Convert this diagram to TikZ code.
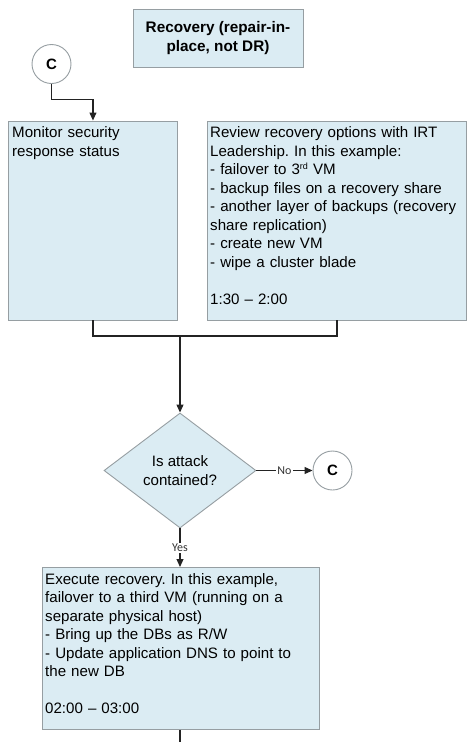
\documentclass[tikz,border=0pt]{standalone}
\usepackage{fontspec}
\setmainfont{Liberation Sans}
\newfontfamily\smallfont{Carlito}
\usetikzlibrary{positioning,calc,arrows.meta,shapes.geometric}
\definecolor{boxfill}{RGB}{219,236,243}
\definecolor{boxline}{RGB}{150,158,162}
\definecolor{wireline}{RGB}{35,35,35}
\frenchspacing

\begin{document}
\begin{tikzpicture}[x=1pt,y=-1pt,
  stepbox/.style={draw=boxline, fill=boxfill, line width=0.9pt, anchor=north west, inner sep=0pt},
  steptext/.style={anchor=north west, inner sep=0pt, align=left,
    font=\fontsize{15.1}{18.5}\selectfont},
  titlebox/.style={stepbox, anchor=center, align=center,
    font=\bfseries\fontsize{15.3}{18.3}\selectfont},
  connector/.style={draw=boxline, fill=white, circle, line width=0.9pt, minimum size=39pt,
    inner sep=0pt, font=\bfseries\fontsize{15}{18}\selectfont},
  decision/.style={draw=boxline, fill=boxfill, diamond, line width=0.9pt, aspect=1.32,
    minimum width=152pt, minimum height=115pt, inner sep=0pt, align=center,
    font=\fontsize{15.1}{18.5}\selectfont},
  yesno/.style={fill=white, inner sep=1pt, text=black!80, font=\smallfont\fontsize{12}{13}\selectfont},
  wire/.style={draw=wireline, line width=1.1pt},
  >={Triangle[length=8pt,width=7pt]}
  ]
  \useasboundingbox (0,0) rectangle (474,742);

  \node[titlebox, minimum width=170pt, minimum height=58pt] (title) at (218,38)
    {Recovery (repair-in-\\place, not DR)};

  \node[connector] (cin) at (51.5,64) {C};

  % the two parallel steps
  \node[stepbox, minimum width=169pt, minimum height=199pt] (mon) at (8,120.5) {};
  \node[steptext, text width=160pt] (montext) at ($(mon.north west)+(4,6)$)
    {Monitor security\\response status};

  \node[stepbox, minimum width=259pt, minimum height=199pt] (rev) at (207,120.5) {};
  \node[steptext, text width=252pt] (revtext) at ($(rev.north west)+(3,6)$)
    {Review recovery options with IRT\\
     Leadership. In this example:\\
     - failover to 3\raisebox{5pt}{\fontsize{9}{9}\selectfont rd} VM\\
     - backup files on a recovery share\\
     - another layer of backups (recovery\\
     share replication)\\
     - create new VM\\
     - wipe a cluster blade\\[18.5pt]
     1:30 -- 2:00};

  \node[decision] (dec) at (180,470.5) {Is attack\\contained?};
  \node[connector] (cout) at (332.5,470.5) {C};

  \node[stepbox, minimum width=277pt, minimum height=162pt] (exe) at (42,567) {};
  \node[steptext, text width=270pt] (exetext) at ($(exe.north west)+(3,6)$)
    {Execute recovery. In this example,\\
     failover to a third VM (running on a\\
     separate physical host)\\
     - Bring up the DBs as R/W\\
     - Update application DNS to point to\\
     the new DB\\[18.5pt]
     02:00 -- 03:00};

  \coordinate (cbend) at (mon.north |- 0,99.5);
  \coordinate (join) at (dec.north |- 0,336);
  \coordinate (exitpt) at (180,742);

  \draw[wire, ->] (cin.south) |- (cbend) -- (mon.north);
  \draw[wire] (mon.south) |- (join) -| (rev.south);
  \draw[wire, ->] (join) -- (dec.north);
  \draw[wire, ->] (dec.east) -- node[yesno] (nolabel) {No} (cout.west);
  \draw[wire, ->] (dec.south) -- node[yesno] (yeslabel) {Yes} (exe.north -| dec.south);
  \draw[wire] (exe.south -| dec.south) -- (exitpt);

\end{tikzpicture}
\end{document}
